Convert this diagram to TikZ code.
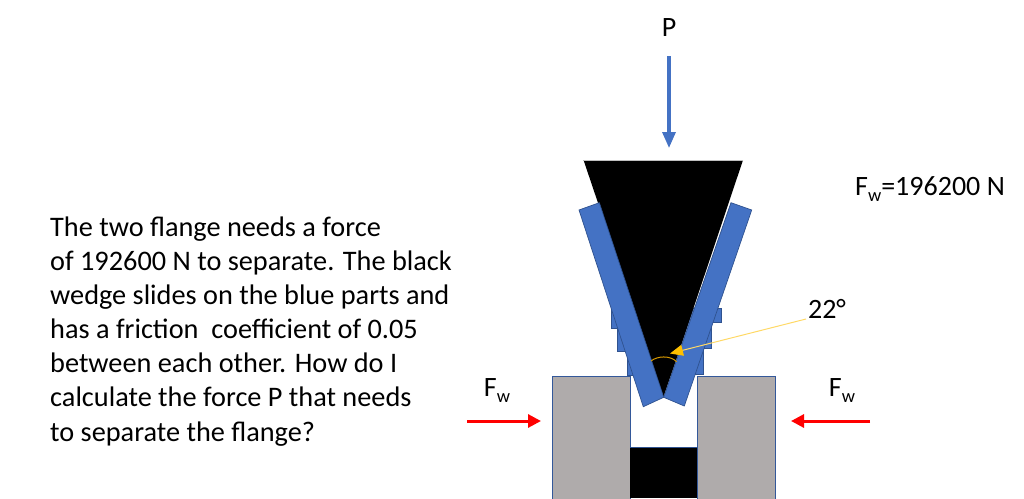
\documentclass[tikz,border=0pt]{standalone}
\usepackage{fontspec}
\setmainfont{Carlito}
\usetikzlibrary{arrows.meta}
\definecolor{bluefill}{HTML}{4472C4}
\definecolor{blueedge}{HTML}{2F528F}
\definecolor{grayfill}{HTML}{AFABAB}
\definecolor{goldline}{HTML}{FFD966}
\definecolor{goldtip}{HTML}{FFC000}
\definecolor{goldarc}{HTML}{D99A00}
\newcommand{\fwsub}{F\raisebox{-0.22em}{\fontsize{18.5}{18.5}\selectfont w}}
\tikzset{
  part/.style={fill=bluefill,draw=blueedge,line width=0.7pt,line join=miter},
  flange/.style={fill=grayfill,draw=blueedge!80!bluefill,line width=1.1pt},
  label/.style={inner sep=0pt,anchor=center,font=\fontsize{28}{28}\selectfont},
  body/.style={inner sep=0pt,anchor=base west,font=\fontsize{28.3}{28.3}\selectfont},
  redarrow/.style={draw=red,line width=3pt,-{Triangle[length=13pt,width=13pt]}},
  bluearrow/.style={draw=bluefill,line width=3.2pt,-{Triangle[length=16pt,width=13pt]}},
}
\begin{document}
\begin{tikzpicture}[x=1pt,y=-1pt]
\useasboundingbox (0,0) rectangle (1024,498);
% stepped backing parts
\draw[part] (611,308) -- (611,328.3) -- (617.7,328.3) -- (617.7,351.7) -- (627,351.7) -- (627,375) -- (634.3,375) -- (634.3,398) -- (693.7,398) -- (693.7,374.3) -- (703.7,374.3) -- (703.7,348.3) -- (711.7,348.3) -- (711.7,322.7) -- (721.7,322.7) -- (721.7,308) -- cycle;
% flanges
\path[fill=white] (630,376) rectangle (697,448);
\node[flange,draw,minimum width=77.7pt,minimum height=130pt,anchor=north west,inner sep=0pt] (flangeL) at (552.3,375.7) {};
\node[flange,draw,minimum width=77.7pt,minimum height=130pt,anchor=north west,inner sep=0pt] (flangeR) at (697,375.7) {};
\fill[black] (630,447.7) rectangle (697,498);
\draw[blueedge,line width=1pt] (630,447.7) -- (697,447.7);
\clip (0,0) rectangle (1024,498);
% wedge
\fill[black] (583.5,160) -- (743,160) -- (663.7,397.3) -- cycle;
\draw[white!75!black,line width=0.5pt] (583.5,160) -- (743,160);
\draw[white!70!black,line width=0.6pt] (731,202.7) -- (663.7,397.3);
% blue strips
\draw[part] (579,210) -- (599.3,202.7) -- (663.7,397.3) -- (643.3,406.7) -- cycle;
\draw[part] (731,202.7) -- (751.7,210) -- (684.3,406) -- (663.7,397.3) -- cycle;
% angle mark
\draw[goldarc,line width=1pt] (651,361) .. controls (657,356) and (670,355) .. (676.7,361.7);
% texts
\node[label] (p) at (669,28) {P};
\node[label,anchor=base west] (fw) at (855,195) {\fwsub=196200 N};
\node[label] (angle) at (827,309) {22°};
\node[label,anchor=base] (fwl) at (497,396) {\fwsub};
\node[label,anchor=base] (fwr) at (842,396) {\fwsub};
% leader
\coordinate (leaderStart) at (806,319);
\coordinate (leaderEnd) at (670,353.5);
\draw[goldline,line width=1pt,-{Triangle[length=13pt,width=11pt,color=goldtip]}] (leaderStart) -- (leaderEnd);
% arrows
\coordinate (pa) at (669,56); \coordinate (pb) at (669,148);
\draw[bluearrow] (pa) -- (pb);
\coordinate (la) at (467,421); \coordinate (lb) at (541,421);
\draw[redarrow] (la) -- (lb);
\coordinate (ra) at (870,421); \coordinate (rb) at (791,421);
\draw[redarrow] (ra) -- (rb);
% body
\node[body] (t1) at (50,236) {The two flange needs a force};
\node[body] (t2) at (50,270) {of 192600 N to separate. The black};
\node[body] (t3) at (50,304) {wedge slides on the blue parts and};
\node[body] (t4) at (50,338) {has a friction\ \ coefficient of 0.05};
\node[body] (t5) at (50,372) {between each other. How do I};
\node[body] (t6) at (50,406) {calculate the force P that needs};
\node[body] (t7) at (50,441) {to separate the flange?};
\end{tikzpicture}
\end{document}
